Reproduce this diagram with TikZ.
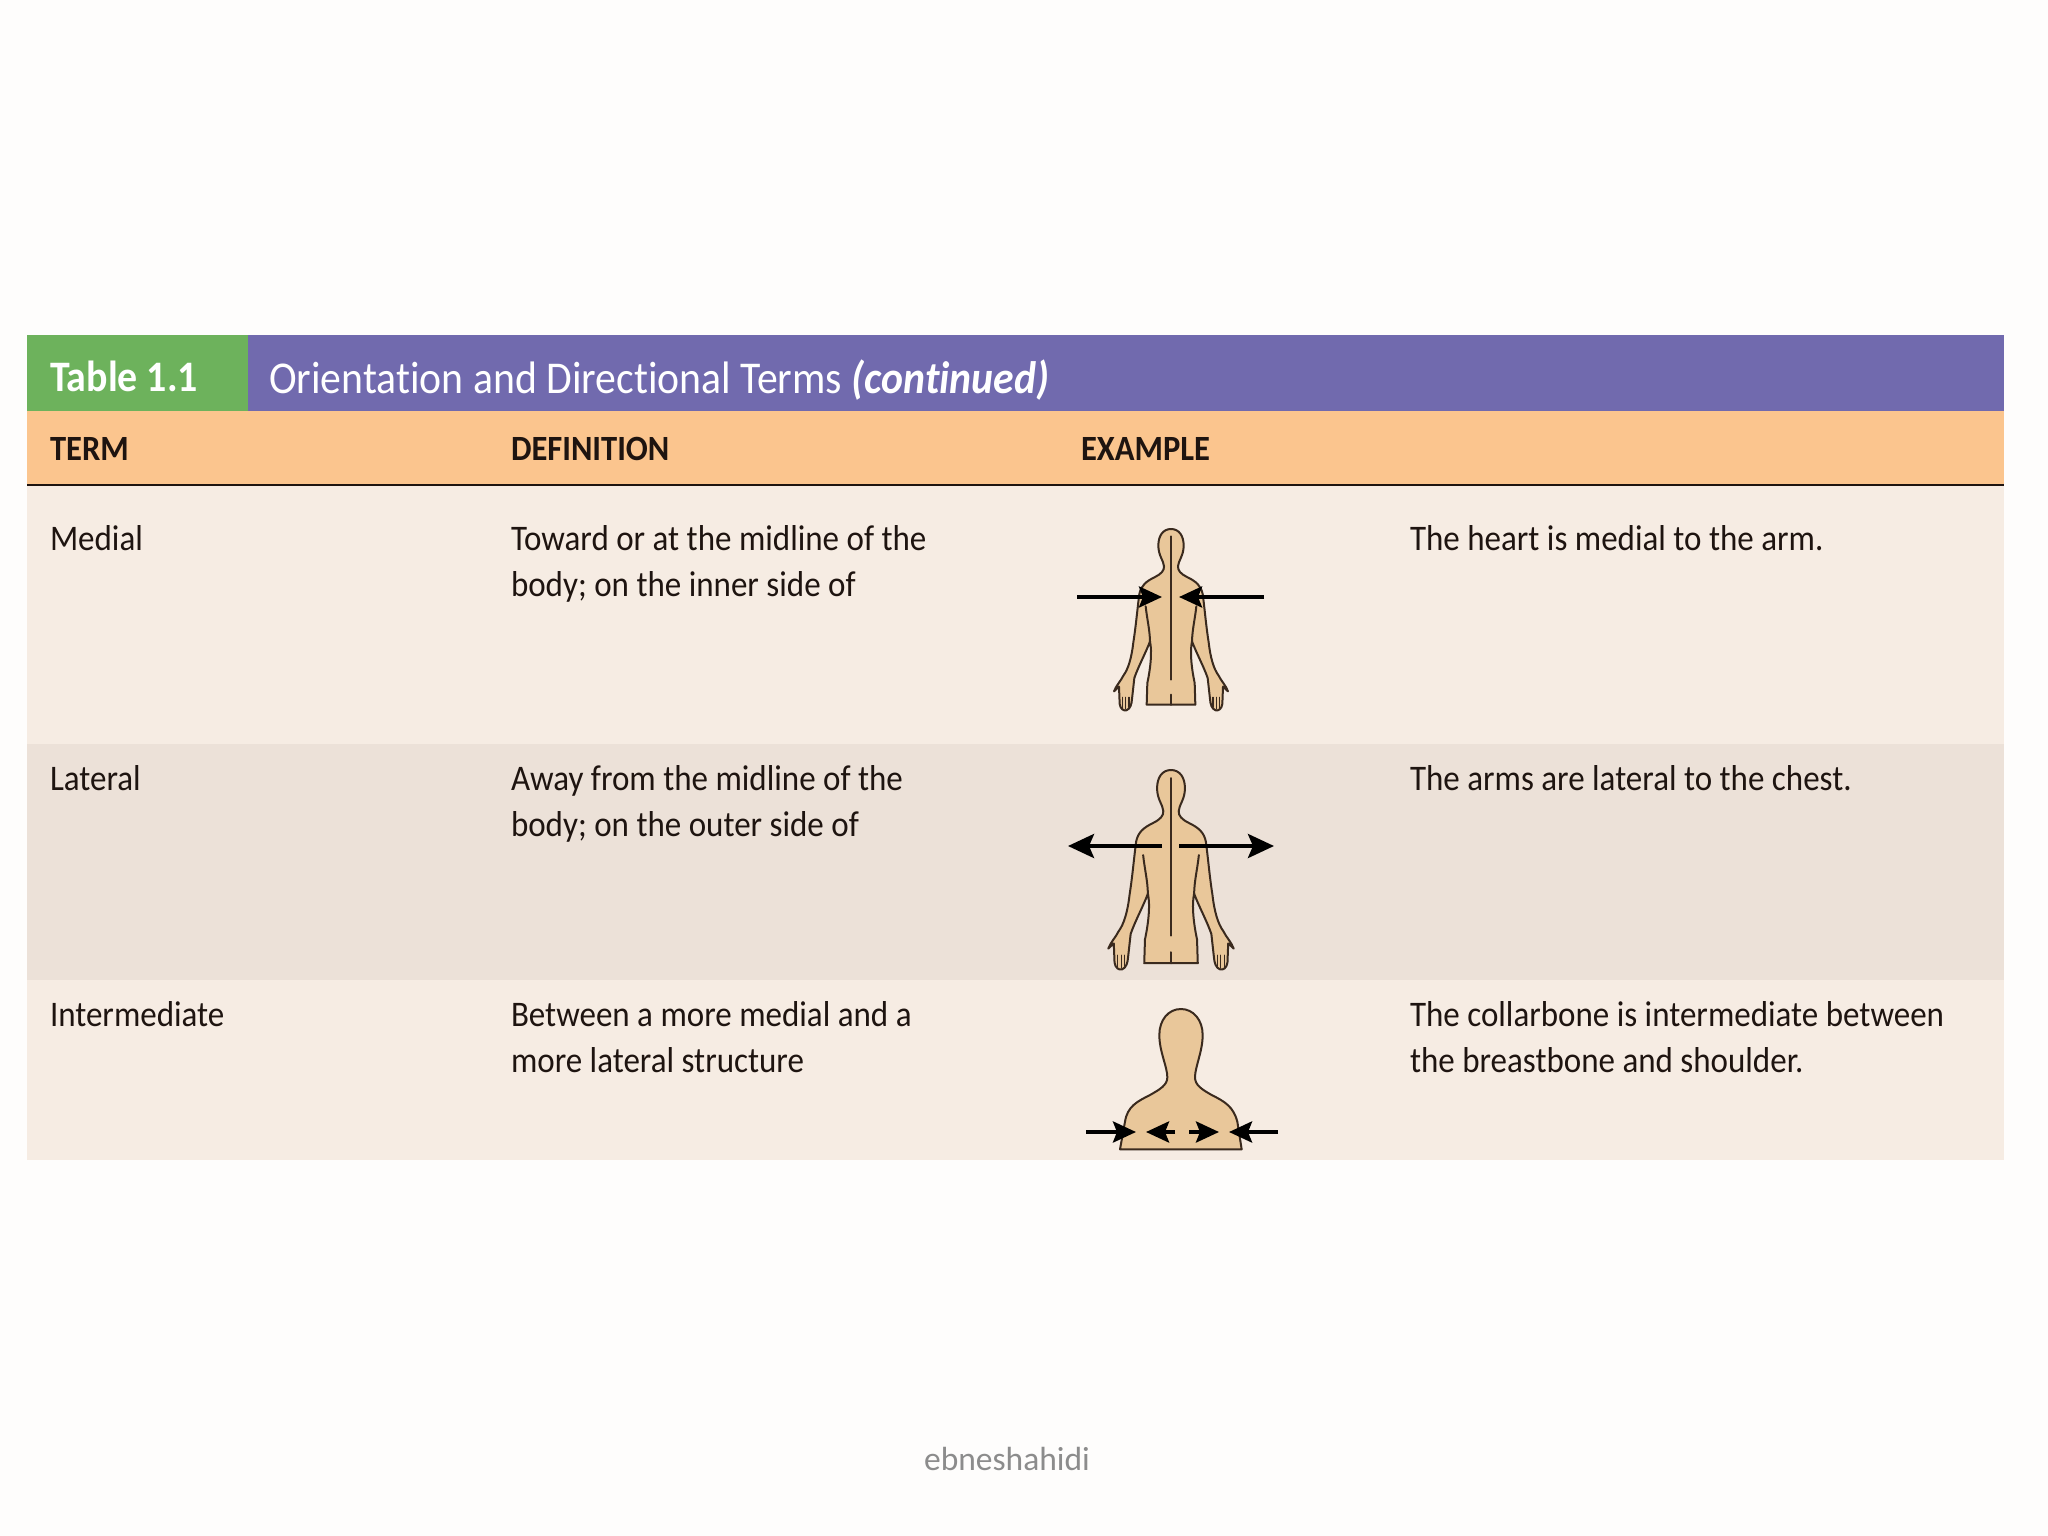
\documentclass[tikz,border=0pt]{standalone}
\usepackage{fontspec}
\setmainfont[FakeStretch=0.917,Ligatures={NoCommon}]{Carlito}
\newfontfamily\footfont{Carlito}
\usetikzlibrary{arrows.meta}
\definecolor{pagebg}{HTML}{FEFDFC}
\definecolor{greenbar}{HTML}{6DB25C}
\definecolor{purplebar}{HTML}{716AAE}
\definecolor{orangebar}{HTML}{FBC58E}
\definecolor{rowlight}{HTML}{F6ECE3}
\definecolor{rowdark}{HTML}{ECE1D8}
\definecolor{skin}{HTML}{E9C79A}
\definecolor{ink}{HTML}{1E1410}
\definecolor{outline}{HTML}{3A2A1E}
\tikzset{
  x=1pt,y=-1pt,
  cell/.style={anchor=base west,inner sep=0pt,outer sep=0pt,font=\fontsize{36}{36}\selectfont,text=ink},
  headcell/.style={anchor=base west,inner sep=0pt,outer sep=0pt,font=\fontsize{35.5}{36}\selectfont\bfseries,text=ink},
  bodyline/.style={draw=outline,line width=2pt,line join=round,line cap=round},
  fingerline/.style={draw=outline,line width=1.2pt,line cap=round},
  dirarrow/.style={draw=black,line width=4pt,-{Stealth[inset=4pt,length=23pt,width=21pt]}},
  bigarrow/.style={draw=black,line width=4pt,-{Stealth[inset=5pt,length=26pt,width=24pt]}},
}
% half a figure, local coordinates: centre line at x=0, head top at y=0 (3x px)
\newcommand{\halfout}{(0,0) .. controls (-24,0) and (-38,20) .. (-38,50)
  .. controls (-38,80) and (-22,95) .. (-21,112)
  .. controls (-20,125) and (-30,135) .. (-48,144)
  .. controls (-75,157) and (-90,170) .. (-95,195)
  .. controls (-100,230) and (-105,290) .. (-113,340)
  .. controls (-118,385) and (-128,420) .. (-143,440)
  .. controls (-150,455) and (-165,470) .. (-171,487)
  -- (-156,473) -- (-154,525) .. controls (-152,540) and (-142,546) .. (-134,544)
  .. controls (-122,540) and (-118,525) .. (-117,510)
  -- (-110,447) .. controls (-98,412) and (-75,370) .. (-63,337)
  .. controls (-56,370) and (-62,420) .. (-71,462)
  -- (-73,527) -- (0,527)}
\newcommand{\onefigure}{%
  \fill[skin] \halfout -- cycle;
  \begin{scope}[xscale=-1]\fill[skin] \halfout -- cycle;\draw[bodyline] \halfout;
    \draw[bodyline] (-76,232) .. controls (-72,270) and (-64,300) .. (-63,337);
    \draw[fingerline] (-145,505) -- (-145,538);
    \draw[fingerline] (-136,505) -- (-136,540);
    \draw[fingerline] (-126,505) -- (-126,535);
  \end{scope}
  \draw[bodyline] \halfout;
  \draw[bodyline] (-76,232) .. controls (-72,270) and (-64,300) .. (-63,337);
  \draw[fingerline] (-145,505) -- (-145,538);
  \draw[fingerline] (-136,505) -- (-136,540);
  \draw[fingerline] (-126,505) -- (-126,535);
  \draw[bodyline] (0,22) -- (0,452);
  \draw[bodyline] (0,497) -- (0,527);
}
\begin{document}
\begin{tikzpicture}
\useasboundingbox (0,0) rectangle (2048,1536);
\fill[pagebg] (0,0) rectangle (2048,1536);
% table bands
\fill[greenbar] (27,335) rectangle (248,411);
\fill[purplebar] (248,335) rectangle (2004,411);
\fill[orangebar] (27,411) rectangle (2004,484);
\fill[rowlight] (27,485) rectangle (2004,744);
\fill[rowdark] (27,744) rectangle (2004,980);
\fill[rowlight] (27,980) rectangle (2004,1160);
\draw[ink,line width=2.2pt] (27,485) -- (2004,485);
% header text
\node[anchor=base west,inner sep=0pt,text=white,font=\fontsize{43.5}{44}\selectfont\bfseries] (tablenum) at (50,391) {Table 1.1};
\node[anchor=base west,inner sep=0pt,text=white,font=\fontsize{45.5}{46}\selectfont] (tabletitle) at (269,393) {Orientation and Directional Terms \textbf{\textit{(continued)}}};
\node[headcell] (hterm) at (50,460) {TERM};
\node[headcell] (hdef) at (511,460) {DEFINITION};
\node[headcell] (hex) at (1081,460) {EXAMPLE};
% rows
\node[cell] (t1) at (50,550) {Medial};
\node[cell] (d1a) at (511,550) {Toward or at the midline of the};
\node[cell] (d1b) at (511,596) {body; on the inner side of};
\node[cell] (e1) at (1410,550) {The heart is medial to the arm.};
\node[cell] (t2) at (50,790) {Lateral};
\node[cell] (d2a) at (511,790) {Away from the midline of the};
\node[cell] (d2b) at (511,836) {body; on the outer side of};
\node[cell] (e2) at (1410,790) {The arms are lateral to the chest.};
\node[cell] (t3) at (50,1026) {Intermediate};
\node[cell] (d3a) at (511,1026) {Between a more medial and a};
\node[cell] (d3b) at (511,1072) {more lateral structure};
\node[cell] (e3a) at (1410,1026) {The collarbone is intermediate between};
\node[cell] (e3b) at (1410,1072) {the breastbone and shoulder.};
% figure 1
\begin{scope}[shift={(1171,529)},scale=1/3]\onefigure\end{scope}
\coordinate (a1s) at (1077,597); \coordinate (a1e) at (1162,597);
\coordinate (a2s) at (1264,597); \coordinate (a2e) at (1179,597);
\draw[dirarrow] (a1s) -- (a1e);
\draw[dirarrow] (a2s) -- (a2e);
% figure 2
\begin{scope}[shift={(1171,770)},scale=1.1/3]\onefigure\end{scope}
\coordinate (b1s) at (1162,846); \coordinate (b1e) at (1068,846);
\coordinate (b2s) at (1179,846); \coordinate (b2e) at (1274,846);
\draw[bigarrow] (b1s) -- (b1e);
\draw[bigarrow] (b2s) -- (b2e);
% figure 3
\begin{scope}[shift={(1040,990)},scale=1/3]
  \draw[bodyline,fill=skin] (423,57) .. controls (385,57) and (358,90) .. (358,135)
    .. controls (358,185) and (382,230) .. (382,262)
    .. controls (382,285) and (360,298) .. (330,315)
    .. controls (290,335) and (262,350) .. (255,395)
    -- (240,478) -- (605,478) -- (592,395)
    .. controls (580,350) and (555,335) .. (515,315)
    .. controls (485,298) and (465,285) .. (465,262)
    .. controls (465,230) and (488,185) .. (488,135)
    .. controls (488,90) and (460,57) .. (423,57) -- cycle;
\end{scope}
\coordinate (c1s) at (1086,1132); \coordinate (c1e) at (1136,1132);
\coordinate (c2s) at (1175,1132); \coordinate (c2e) at (1146,1132);
\coordinate (c3s) at (1189,1132); \coordinate (c3e) at (1219,1132);
\coordinate (c4s) at (1278,1132); \coordinate (c4e) at (1229,1132);
\draw[dirarrow] (c1s) -- (c1e);
\draw[dirarrow] (c2s) -- (c2e);
\draw[dirarrow] (c3s) -- (c3e);
\draw[dirarrow] (c4s) -- (c4e);
% footer
\node[inner sep=0pt,text=black!45,font=\footfont\fontsize{33.5}{34}\selectfont] (foot) at (1007,1459) {ebneshahidi};
\end{tikzpicture}
\end{document}
